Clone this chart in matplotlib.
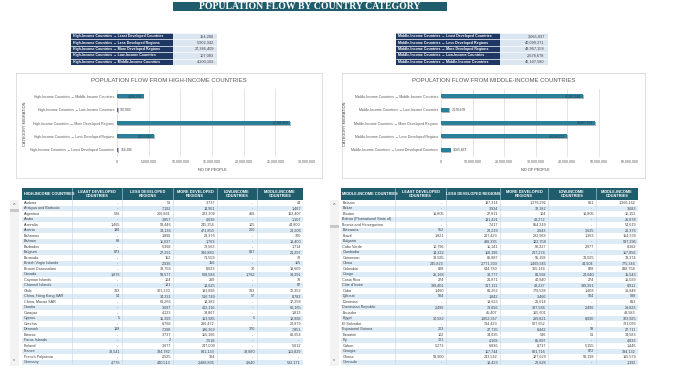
import matplotlib.pyplot as plt
import matplotlib.patheffects as pe
from matplotlib.patches import Rectangle

W, H = 680, 382

# summary of flows (destination categories, bottom -> top in the charts)
dest_cats = ['Least Developed Countries', 'Less Developed Regions',
             'More Developed Regions', 'Low-Income Countries',
             'Middle-Income Countries']
high_flow = [154206, 5902342, 27386409, 107083, 4200102]
mid_flow = [3065837, 40099371, 48967158, 2678678, 45107580]

# detail table: high-income origins
hi_names = ['Andorra', 'Antigua and Barbuda', 'Argentina', 'Aruba', 'Australia',
            'Austria', 'Bahamas', 'Bahrain', 'Barbados', 'Belgium', 'Bermuda',
            'British Virgin Islands', 'Brunei Darussalam', 'Canada',
            'Cayman Islands', 'Channel Islands', 'Chile', 'China, Hong Kong SAR',
            'China, Macao SAR', 'Croatia', 'Curaçao', 'Cyprus', 'Czechia',
            'Denmark', 'Estonia', 'Faroe Islands', 'Finland', 'France',
            'French Polynesia', 'Germany']
hi_least = [None, None, 526, None, 1465, 190, None, 89, None, 873, None, None,
            None, 1876, None, None, 333, 54, None, None, None, 5, None, 188,
            None, None, None, 38541, None, 4776]
hi_less = [53, 7192, 206861, 3857, 58446, 34136, 1899, 11037, 5368, 27291, 152,
           2936, 78756, 59577, 104, 181, 301230, 34331, 61266, 3697, 4123,
           15393, 8768, 7398, 3737, 2, 3677, 334782, 2525, 440513]
hi_more = [3737, 14961, 223309, 4639, 245256, 471850, 23376, 1763, 79563,
           336880, 71559, 156, 8623, 938586, 269, 18625, 191898, 516749, 14382,
           402116, 39867, 163985, 266472, 196363, 115166, 7518, 247009, 881133,
           324, 2488835]
hi_low = [None, None, 466, None, 105, 200, None, None, None, 817, None, None,
          30, 1762, None, None, 333, 57, None, None, None, 5, None, 370, None,
          None, None, 38880, None, 4640]
hi_mid = [44, 1467, 152407, 1107, 44800, 28206, 700, 18400, 1714, 21297, 78,
          115, 19609, 38291, 78, 87, 72352, 8782, 17258, 60165, 1813, 18898,
          28879, 7851, 86654, None, 5612, 113829, None, 532171]

# detail table: middle-income origins
mid_names = ['Belarus', 'Belize', 'Bhutan', 'Bolivia (Plurinational State of)',
             'Bosnia and Herzegovina', 'Botswana', 'Brazil', 'Bulgaria',
             'Cabo Verde', 'Cambodia', 'Cameroon', 'China', 'Colombia', 'Congo',
             'Costa Rica', "Côte d'Ivoire", 'Cuba', 'Djibouti', 'Dominica',
             'Dominican Republic', 'Ecuador', 'Egypt', 'El Salvador',
             'Equatorial Guinea', 'Eswatini', 'Fiji', 'Gabon', 'Georgia',
             'Ghana', 'Grenada']
mid_least = [None, None, 16805, None, None, 952, 1821, None, 10796, 14322,
             33585, 245823, 828, 25168, 274, 399401, 1460, 904, None, 2496,
             None, 30582, None, 203, 102, 721, 5273, None, 58900, None]
mid_less = [197314, 3934, 27811, 181421, 7417, 23219, 217423, 498335, 11141,
            118196, 85887, 2771303, 644780, 34777, 21871, 317111, 81262, 1842,
            18623, 79656, 45407, 1852357, 734423, 27735, 34635, 4169, 6836,
            117744, 243542, 18423]
mid_more = [1376292, 32182, 104, 43272, 854349, 2843, 282969, 122758, 80227,
            237274, 55198, 1469345, 365146, 81598, 40940, 48237, 779538, 3466,
            21614, 387586, 165601, 269821, 507652, 8442, 546, 85897, 8717,
            801716, 127629, 23628]
mid_low = [861, None, 16805, None, None, 3625, 1363, None, 2977, None, 33025,
           44504, 828, 24640, 274, 399361, 1408, 904, None, 2496, None, 8690,
           None, 59, 51, None, 5155, 872, 58198, None]
mid_mid = [1366162, 3683, 11153, 26878, 54619, 26376, 154339, 587296, 8162,
           117856, 33374, 775344, 818758, 15543, 16039, 8911, 36848, 938, 813,
           29823, 43583, 323925, 731093, 27711, 34583, 4833, 1446, 334132,
           165579, 1392]

TEAL = '#1F5D6C'
NAVY = '#1F3763'
BAR = '#2A7F99'
STRIPE = '#DDEBF7'
GREY = '#595959'

plt.rcParams['font.family'] = ['Liberation Sans', 'DejaVu Sans']


def box(x0, y0, x1, y1):
    # pixel rectangle -> figure fraction
    return [x0 / W, 1 - y1 / H, (x1 - x0) / W, (y1 - y0) / H]


def fmt(v):
    return '-  ' if v is None else f'{v:,}'


fig = plt.figure(figsize=(W / 100, H / 100), dpi=100)
fig.patch.set_facecolor('white')

# title bar
ax = fig.add_axes(box(173, 2, 447, 11))
ax.set_facecolor(TEAL)
ax.set_xticks([]); ax.set_yticks([])
for s in ax.spines.values():
    s.set_visible(False)
ax.text(0.5, 0.45, 'POPULATION FLOW BY COUNTRY CATEGORY', transform=ax.transAxes,
        ha='center', va='center', color='white', fontsize=7, fontweight='bold',
        family='Liberation Serif')


def summary(x0, x1, x2, origin, vals):
    y0, y1 = 33, 65
    lab = fig.add_axes(box(x0, y0, x1, y1))
    val = fig.add_axes(box(x1, y0, x2, y1))
    for a, c in ((lab, NAVY), (val, '#DCE6F1')):
        a.set_facecolor(c)
        a.set_xlim(0, 1); a.set_ylim(len(vals), 0)
        a.set_xticks([]); a.set_yticks([])
        for s in a.spines.values():
            s.set_visible(False)
    for i, (cat, v) in enumerate(zip(dest_cats, vals)):
        lab.axhline(i, color='white', lw=0.5)
        val.axhline(i, color='white', lw=0.5)
        lab.text(0.015, i + 0.5, f'{origin} → {cat}', va='center', ha='left',
                 color='white', fontsize=2.55, fontweight='bold', clip_on=True)
        val.text(0.93, i + 0.5, f'{v:,}', va='center', ha='right',
                 color='#404040', fontsize=2.8)


summary(71, 173, 217, 'High-Income Countries', high_flow)
summary(396, 500, 548, 'Middle-Income Countries', mid_flow)


def chart(panel, plot, origin, vals, xmax, step, title, ylab_x):
    p = fig.add_axes(box(*panel))
    p.set_xticks([]); p.set_yticks([])
    for s in p.spines.values():
        s.set_color('#D9D9D9'); s.set_linewidth(0.6)
    p.text(0.5, 0.93, title, transform=p.transAxes, ha='center', va='center',
           fontsize=4.3, color=GREY)
    p.text(ylab_x, 0.52, 'CATEGORY MIGRATION', transform=p.transAxes,
           rotation=90, ha='center', va='center', fontsize=2.8, color='#404040')

    ax = fig.add_axes(box(*plot))
    ypos = list(range(len(vals)))
    bars = ax.barh(ypos, vals, height=0.32, color=BAR, zorder=3)
    for b in bars:
        b.set_path_effects([pe.SimplePatchShadow(offset=(0.6, -0.6),
                                                 shadow_rgbFace='#7F7F7F',
                                                 alpha=0.6), pe.Normal()])
    for y, v in zip(ypos, vals):
        if v > xmax * 0.1:
            ax.text(v - xmax * 0.01, y, f'{v:,}', ha='right', va='center',
                    fontsize=2.3, color='#1F3F4F', zorder=4)
        else:
            ax.text(v + xmax * 0.012, y, f'{v:,}', ha='left', va='center',
                    fontsize=2.3, color='#404040', zorder=4)
    ax.set_xlim(0, xmax)
    ax.set_ylim(-0.55, len(vals) - 0.45)
    ticks = list(range(0, xmax + 1, step))
    ax.set_xticks(ticks)
    ax.set_xticklabels([f'{t:,}' for t in ticks])
    ax.set_yticks(ypos)
    ax.set_yticklabels([f'{origin} → {c}' for c in dest_cats])
    ax.tick_params(length=0, labelsize=2.5, labelcolor=GREY, pad=2)
    ax.grid(axis='x', color='#D9D9D9', lw=0.5, zorder=0)
    for s in ax.spines.values():
        s.set_visible(False)
    ax.set_xlabel('NO OF PEOPLE', fontsize=2.8, color='#404040', labelpad=3)


chart((16, 73, 322, 178), (117, 89, 307, 157), 'High-Income Countries',
      high_flow, 30000000, 5000000,
      'POPULATION FLOW FROM HIGH-INCOME COUNTRIES', 0.03)
chart((342, 73, 645, 178), (441, 89, 630, 157), 'Middle-Income Countries',
      mid_flow, 60000000, 10000000,
      'POPULATION FLOW FROM MIDDLE-INCOME COUNTRIES', 0.01)


def table(edges, headers, names, cols, scroll_x, thumb_y):
    row_h = 5.5
    n = len(names)
    top, hdr = 188, 12
    ax = fig.add_axes(box(edges[0], top, edges[-1], top + hdr + n * row_h))
    ax.set_xlim(edges[0], edges[-1])
    ax.set_ylim(n, -hdr / row_h)
    ax.axis('off')
    ax.add_patch(Rectangle((edges[0], -hdr / row_h), edges[-1] - edges[0],
                           hdr / row_h, color=TEAL, lw=0))
    for i in range(n):
        if i % 2:
            ax.add_patch(Rectangle((edges[0], i), edges[-1] - edges[0], 1,
                                   color=STRIPE, lw=0))
    for e in edges[1:-1]:
        ax.plot([e, e], [-hdr / row_h, n], color='#BDD7EE', lw=0.4)
    for j, h in enumerate(headers):
        xl, xr = edges[j], edges[j + 1]
        if j == 0:
            ax.text(xl + 1.5, -hdr / row_h / 2, h, ha='left', va='center',
                    color='white', fontsize=2.8, fontweight='bold')
        else:
            ax.text((xl + xr) / 2, -hdr / row_h / 2, h, ha='center',
                    va='center', color='white', fontsize=2.8,
                    fontweight='bold', linespacing=1.1)
    for i, name in enumerate(names):
        ax.text(edges[0] + 1.5, i + 0.5, name, ha='left', va='center',
                fontsize=2.7, color='#404040')
        for j, col in enumerate(cols):
            ax.text(edges[j + 2] - 2, i + 0.5, fmt(col[i]), ha='right',
                    va='center', fontsize=2.7, color='#404040')

    # scroll bar
    sb = fig.add_axes(box(scroll_x, 200, scroll_x + 9, 366))
    sb.set_facecolor('#F3F3F3')
    sb.set_xlim(0, 1); sb.set_ylim(366, 200)
    sb.set_xticks([]); sb.set_yticks([])
    for s in sb.spines.values():
        s.set_visible(False)
    sb.text(0.5, 205.5, '^', ha='center', va='center', fontsize=4, color=GREY)
    sb.text(0.5, 360.5, 'v', ha='center', va='center', fontsize=3, color=GREY)
    sb.add_patch(Rectangle((0.05, thumb_y), 0.9, 3, color='#C8C8C8', lw=0))


table([22, 72, 122, 173, 217, 257, 303],
      ['HIGH-INCOME COUNTRIES', 'LEAST DEVELOPED\nCOUNTRIES',
       'LESS DEVELOPED\nREGIONS', 'MORE DEVELOPED\nREGIONS',
       'LOW-INCOME\nCOUNTRIES', 'MIDDLE-INCOME\nCOUNTRIES'],
      hi_names, [hi_least, hi_less, hi_more, hi_low, hi_mid], 10, 209)
table([341, 395, 446, 500, 548, 596, 638],
      ['MIDDLE-INCOME COUNTRIES', 'LEAST DEVELOPED\nCOUNTRIES',
       'LESS DEVELOPED REGIONS', 'MORE DEVELOPED\nREGIONS',
       'LOW-INCOME\nCOUNTRIES', 'MIDDLE-INCOME\nCOUNTRIES'],
      mid_names, [mid_least, mid_less, mid_more, mid_low, mid_mid], 330, 225)

fig.savefig('out.png', dpi=100)
